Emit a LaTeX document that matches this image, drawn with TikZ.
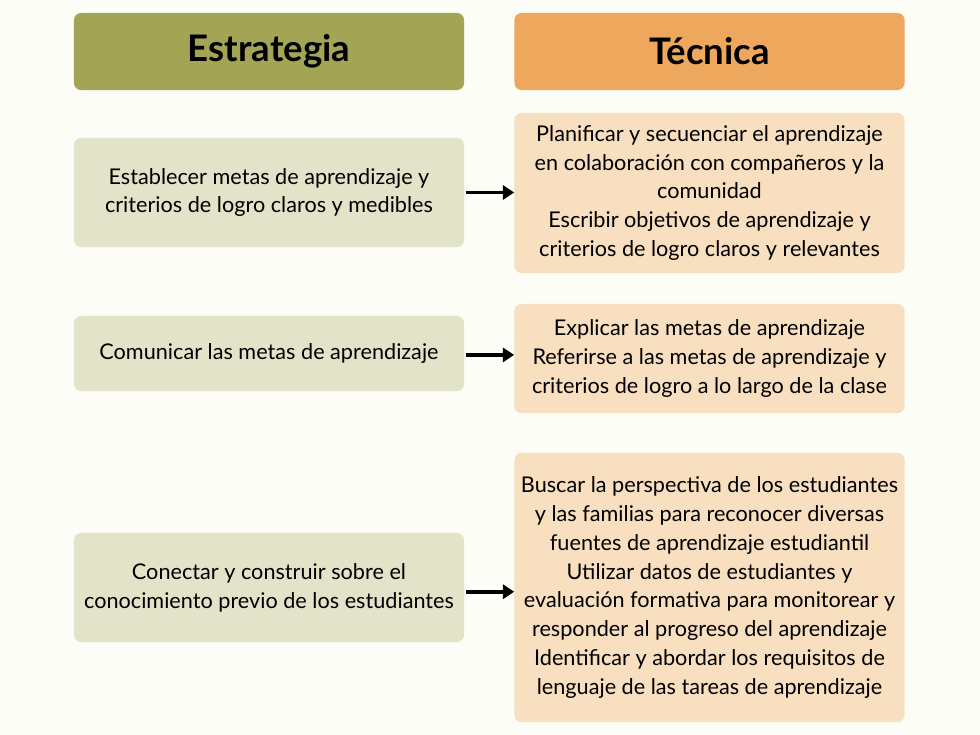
\documentclass[tikz,border=0pt]{standalone}
\usepackage{fontspec}
\setmainfont{Lato}
\usepackage{xcolor}
\usepackage{tikz}
\usetikzlibrary{arrows.meta}

\definecolor{fondo}{HTML}{FBFDF6}
\definecolor{oliva}{HTML}{A3A454}
\definecolor{naranja}{HTML}{EDA85E}
\definecolor{olivaclaro}{HTML}{E3E3C9}
\definecolor{naranjaclaro}{HTML}{F8DFC0}

\tikzset{
  caja/.style={rectangle,rounded corners=5pt,minimum width=9.75cm,align=center,
    inner sep=0pt,font=\fontsize{15.4}{20.5}\selectfont},
  titulo/.style={caja,minimum height=1.925cm,font=\fontsize{26}{30}\selectfont\bfseries},
  flecha/.style={line width=2.8pt,-{Triangle[length=8pt,width=10pt]}}
}

\begin{document}
\begin{tikzpicture}[x=0.025cm,y=-0.025cm]
  \fill[fondo] (0,0) rectangle (980,735);

  \node[titulo,fill=oliva] (est) at (269,51.5) {Estrategia};
  \node[titulo,fill=naranja] (tec) at (709.5,51.5) {Técnica};

  \node[caja,fill=olivaclaro,minimum height=2.725cm] (s1) at (269,192.5)
    {Establecer metas de aprendizaje y\\criterios de logro claros y medibles};
  \node[caja,fill=naranjaclaro,minimum height=4cm] (t1) at (709.5,193)
    {Planificar y secuenciar el aprendizaje\\en colaboración con compañeros y la\\comunidad\\Escribir objetivos de aprendizaje y\\criterios de logro claros y relevantes};

  \node[caja,fill=olivaclaro,minimum height=1.875cm] (s2) at (269,353.5)
    {Comunicar las metas de aprendizaje};
  \node[caja,fill=naranjaclaro,minimum height=2.725cm] (t2) at (709.5,358.5)
    {Explicar las metas de aprendizaje\\Referirse a las metas de aprendizaje y\\criterios de logro a lo largo de la clase};

  \node[caja,fill=olivaclaro,minimum height=2.725cm] (s3) at (269,587.5)
    {Conectar y construir sobre el\\conocimiento previo de los estudiantes};
  \node[caja,fill=naranjaclaro,minimum height=6.725cm] (t3) at (709.5,587.5)
    {Buscar la perspectiva de los estudiantes\\y las familias para reconocer diversas\\fuentes de aprendizaje estudiantil\\Utilizar datos de estudiantes y\\evaluación formativa para monitorear y\\responder al progreso del aprendizaje\\Identificar y abordar los requisitos de\\lenguaje de las tareas de aprendizaje};

  \draw[flecha] ([xshift=1pt]s1.east) -- (s1.east -| t1.west);
  \draw[flecha] ([xshift=1pt,yshift=-1pt]s2.east) -- ([yshift=-1pt]s2.east -| t2.west);
  \draw[flecha] ([xshift=1pt,yshift=-3pt]s3.east) -- ([yshift=-3pt]s3.east -| t3.west);
\end{tikzpicture}
\end{document}
